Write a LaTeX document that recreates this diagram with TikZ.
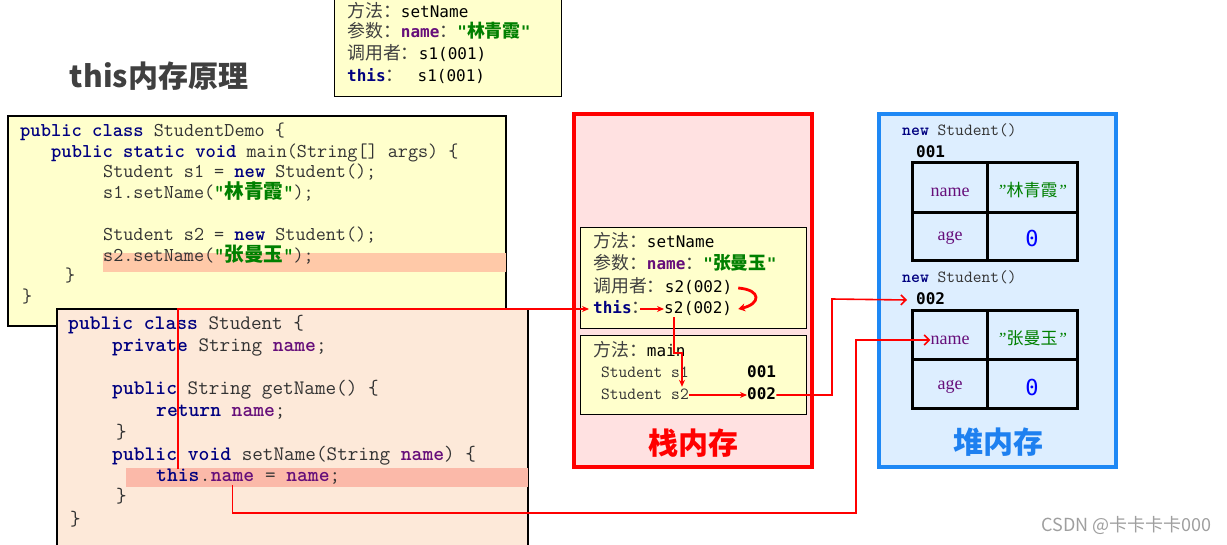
\documentclass[tikz,border=0pt]{standalone}
\usepackage{fontspec}
\setmainfont{Liberation Serif}
\newfontfamily\cjk{Noto Sans CJK SC}
\newfontfamily\cjkbig[Scale=1.12]{Noto Sans CJK SC}
\newfontfamily\cmono{DejaVu Sans Mono}
\usetikzlibrary{arrows.meta,calc}

\definecolor{codeyellow}{HTML}{FFFFCC}
\definecolor{codepeach}{HTML}{FDE9D9}
\definecolor{hlorange}{HTML}{FFC9A8}
\definecolor{hlsalmon}{HTML}{FBB9A9}
\definecolor{stackpink}{HTML}{FFE1E1}
\definecolor{heapblue}{HTML}{DDEEFF}
\definecolor{heapedge}{HTML}{1E88F5}
\definecolor{heaplabel}{HTML}{1E80F0}
\definecolor{kwblue}{HTML}{000080}
\definecolor{fieldpurple}{HTML}{660E7A}
\definecolor{strgreen}{HTML}{008000}
\definecolor{zhgray}{HTML}{404040}
\definecolor{codegray}{HTML}{333333}

\newcommand\kw[1]{{\bfseries\color{kwblue}#1}}
\newcommand\fld[1]{{\bfseries\color{fieldpurple}#1}}
\newcommand\zh[1]{{\cjkbig\color{zhgray}#1}}
\newcommand\jstr[1]{{\color{strgreen}\bfseries"{\cjk\bfseries #1}"}}
\newcommand\jstrf[1]{{\color{strgreen}\bfseries"{\cjkbig\bfseries #1}"}}
\newcommand\hstr[1]{{\color{strgreen}{\rmfamily\itshape ”}{\cjk #1}{\rmfamily\itshape ”}}}

\begin{document}
\begin{tikzpicture}[x=1pt,y=-1pt,
  democode/.style={anchor=west,inner sep=0pt,text height=12pt,text depth=4pt,text=codegray,font=\ttfamily\fontsize{19.6}{19.6}\selectfont},
  stucode/.style={democode,font=\ttfamily\fontsize{20.6}{20.6}\selectfont},
  frametxt/.style={anchor=west,inner sep=0pt,text height=12pt,text depth=4pt,font=\cmono\fontsize{16}{16}\selectfont},
  heaptxt/.style={anchor=west,inner sep=0pt,text height=12pt,text depth=4pt,text=codegray,font=\ttfamily\fontsize{17}{17}\selectfont},
  cell/.style={inner sep=0pt,font=\fontsize{18}{18}\selectfont},
  memlabel/.style={inner sep=0pt,font=\cjk\bfseries\fontsize{30}{30}\selectfont},
  link/.style={red,line width=1.6pt,-{Stealth[length=7pt,width=6pt]}},
  barb/.style={red,line width=1.6pt,-{Straight Barb[length=5pt,width=10pt]}}]
\useasboundingbox (0,0) rectangle (1227,544);

\node[inner sep=0pt,text=zhgray,font=\cjk\bfseries\fontsize{30}{30}\selectfont] (title) at (159,76) {this内存原理};

\draw[fill=codeyellow,line width=1pt] (334,-2) rectangle (561,96);
\node[frametxt] (t1) at (347,13) {\zh{方法：}setName};
\node[frametxt] (t2) at (347,33) {\zh{参数：}\fld{name}\zh{：}\jstrf{林青霞}};
\node[frametxt] (t3) at (347,55) {\zh{调用者：}s1(001)};
\node[frametxt] (t4) at (347,77) {\kw{this}\zh{：}\hspace{14pt}s1(001)};

\draw[fill=codeyellow,line width=1.3pt] (8,116) rectangle (506,326);
\fill[hlorange] (103,253) rectangle (506,272);
\node[democode] (d1) at (20,132) {\kw{public class} StudentDemo \{};
\node[democode] (d2) at (51,153) {\kw{public static void} main(String[] args) \{};
\node[democode] (d3) at (103,173) {Student s1 = \kw{new} Student();};
\node[democode] (d4) at (103,194) {s1.setName(\jstr{林青霞});};
\node[democode] (d5) at (103,236) {Student s2 = \kw{new} Student();};
\node[democode] (d6) at (103,257) {s2.setName(\jstr{张曼玉});};
\node[democode] (d7) at (65,277) {\}};
\node[democode] (d8) at (22,298) {\}};

\draw[fill=codepeach,line width=1.3pt] (57,309) rectangle (528,550);
\fill[hlsalmon] (126,468) rectangle (528,487);
\node[stucode] (c1) at (68,325) {\kw{public class} Student \{};
\node[stucode] (c2) at (112,347) {\kw{private} String \fld{name};};
\node[stucode] (c3) at (112,390) {\kw{public} String getName() \{};
\node[stucode] (c4) at (156,412) {\kw{return} \fld{name};};
\node[stucode] (c5) at (116,434) {\}};
\node[stucode] (c6) at (112,456) {\kw{public void} setName(String \fld{name}) \{};
\node[stucode] (cthis) at (156,477) {\kw{this}};
\node[stucode] (cdot) at (cthis.east) {.};
\node[stucode] (cfield) at (cdot.east) {\fld{name}};
\node[stucode] (crest) at (cfield.east) {\ = \fld{name};};
\node[stucode] (c8) at (116,498) {\}};
\node[stucode] (c9) at (70,521) {\}};

\draw[fill=stackpink,draw=red,line width=3.5pt] (574,114) rectangle (812,467);
\draw[fill=codeyellow,line width=1pt] (580,227) rectangle (806,328);
\draw[fill=codeyellow,line width=1pt] (580,335) rectangle (806,414);
\node[frametxt] (fm1) at (593,243) {\zh{方法：}setName};
\node[frametxt] (fm2) at (593,265) {\zh{参数：}\fld{name}\zh{：}\jstrf{张曼玉}};
\node[frametxt] (fcaller) at (593,288) {\zh{调用者：}s2(002)};
\node[frametxt] (fthis) at (593,309) {\kw{this}\zh{：}};
\node[frametxt] (fs2) at (664,309) {s2};
\node[frametxt] (f002) at (fs2.east) {(002)};
\node[frametxt] (mm1) at (593,352) {\zh{方法：}main};
\node[heaptxt] (ms1) at (601,373) {Student s1};
\node[heaptxt] (ms2) at (601,395) {Student s2};
\node[frametxt] (m001) at (747,373) {\bfseries 001};
\node[frametxt] (m002) at (747,395) {\bfseries 002};
\node[memlabel,text=red] (stacklbl) at (693,443) {栈内存};

\draw[fill=heapblue,draw=heapedge,line width=3.5pt] (879,114) rectangle (1116,467);
\node[heaptxt] (hnew1) at (902,131) {\kw{new} Student()};
\node[frametxt] (h001) at (916,153) {\bfseries 001};
\draw[line width=3pt] (912,162) rectangle (1077,260) (987,162) -- (987,260) (912,212) -- (1077,212);
\node[cell,text=fieldpurple] (hname1) at (950,192) {name};
\node[cell,font=\fontsize{17}{17}\selectfont] (hval1) at (1032,190) {\hstr{林青霞}};
\node[cell,text=fieldpurple] (hage1) at (950,238) {age};
\node[cell,text=blue,font=\cmono\fontsize{22}{22}\selectfont] (hzero1) at (1032,238) {0};
\node[heaptxt] (hnew2) at (902,278) {\kw{new} Student()};
\node[frametxt] (h002) at (916,300) {\bfseries 002};
\draw[line width=3pt] (912,310) rectangle (1077,408) (987,310) -- (987,408) (912,359) -- (1077,359);
\node[cell,text=fieldpurple] (hname2) at (950,340) {name};
\node[cell,font=\fontsize{17}{17}\selectfont] (hval2) at (1032,338) {\hstr{张曼玉}};
\node[cell,text=fieldpurple] (hage2) at (950,387) {age};
\node[cell,text=blue,font=\cmono\fontsize{22}{22}\selectfont] (hzero2) at (1032,387) {0};
\node[memlabel,text=heaplabel] (heaplbl) at (998,442) {堆内存};

\coordinate (kink) at (682,353);
\coordinate (bend7) at (832,299);
\coordinate (bend2) at (856,513);
\draw[link,shorten >=4pt] (cthis.north) |- (fthis.west);
\draw[link] ([xshift=-10pt]fthis.east) -- (fs2.west);
\draw[red,line width=2.8pt,-{Stealth[length=7pt,width=8pt]}] ([xshift=6pt]f002.east |- fcaller.east) .. controls +(24,2) and +(22,-5) .. ([xshift=6pt]f002.east);
\draw[link] (fs2.south) |- (kink) -- (kink |- ms2.north);
\draw[link] (ms2.east) -- (m002.west);
\draw[barb] (m002.east) -| (bend7) -- ([xshift=-9pt]h002.west);
\draw[barb] (cfield.south) |- (bend2) |- (hname2.west);

\node[anchor=east,inner sep=0pt,text=gray!75,font=\cjk\fontsize{18}{18}\selectfont] (mark) at (1212,525) {CSDN @卡卡卡卡000};
\end{tikzpicture}
\end{document}
